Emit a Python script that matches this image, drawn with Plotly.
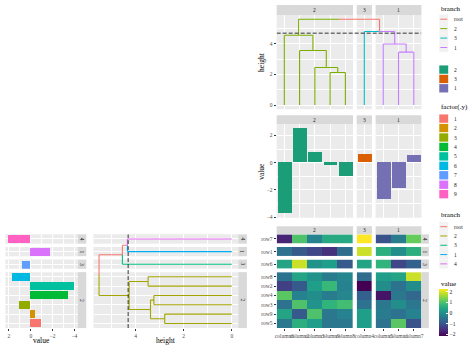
import plotly.graph_objects as go

W, H = 474, 347
FONT = "Liberation Serif"

# ---------------- data ----------------
col_panel_labels = ["2", "3", "1"]
col_panel_sizes = [5, 1, 3]
col_names = ["column6", "column2", "column3", "column9", "column8",
             "column4", "column5", "column1", "column7"]
col_values = [-3.74, 2.51, 0.73, -0.17, -1.02, 0.61, -2.70, -1.92, 0.51]
col_fill_levels = ["2", "3", "1"]
col_fill_colors = ["#1B9E77", "#D95F02", "#7570B3"]

top_merges = [(3, 4, 2.12), (2, "n0", 2.45), (1, "n1", 3.56), (0, "n2", 4.55),
              (7, 8, 3.45), (6, "n4", 3.98), (5, "n5", 4.80), ("n3", "n6", 5.60)]
top_cut = 4.69
top_branch_levels = ["root", "2", "3", "1"]
top_branch_colors = ["#F8766D", "#7CAE00", "#00BFC4", "#C77CFF"]

row_group_labels = ["4", "1", "3", "2"]
row_group_sizes = [1, 1, 1, 6]
row_names = ["row7", "row1", "row6", "row8", "row2", "row4", "row3", "row9", "row5"]
row_values = [2.03, -1.82, 0.75, 1.66, -4.03, -3.48, 1.03, -0.39, -1.00]
factor_levels = ["1", "2", "3", "4", "5", "6", "7", "8", "9"]
factor_colors = ["#F8766D", "#D39200", "#93AA00", "#00BA38", "#00C19F",
                 "#00B9E3", "#619CFF", "#DB72FB", "#FF61C3"]

left_merges = [(0, 1, 4.34), ("n0", 2, 4.55), (3, 4, 3.48), (5, 6, 3.24), (7, 8, 2.79),
               ("n3", "n4", 3.38), ("n2", "n5", 4.27), ("n1", "n6", 5.52)]
left_cut = 4.31
left_branch_levels = ["root", "2", "3", "1", "4"]
left_branch_colors = ["#F8766D", "#A3A500", "#00BF7D", "#00B0F6", "#E76BF3"]

# heatmap values: rows (top->bottom) x columns (left->right)
heat = [
    [-1.7, 1.0, -0.2, 0.5, 0.5, 2.24, -1.0, -0.3, 1.2],
    [-0.5, -0.9, -1.2, -1.5, -0.6, 1.9, 0.6, 0.0, 0.6],
    [0.4, 1.9, 0.1, 0.3, -0.9, 0.4, 0.7, -1.2, -0.8],
    [-0.5, 0.4, 0.1, -0.3, -0.1, -0.6, 0.3, 0.4, 1.9],
    [-1.3, -0.9, 0.3, 0.8, -0.2, -2.14, 0.0, -0.5, 0.0],
    [1.1, -0.2, 0.0, -0.3, -0.1, -0.8, -1.9, -0.4, -0.7],
    [-0.5, 1.0, 0.1, 0.7, 0.9, -0.5, -0.4, 0.0, -0.4],
    [0.4, -0.9, 1.0, -0.4, -0.2, 0.3, -0.3, -0.5, -0.2],
    [-0.4, 0.6, 0.3, -0.4, -0.4, 0.3, -0.5, 1.1, -1.0],
]
value_ticks = [-2, -1, 0, 1, 2]

# ---------------- layout constants (px) ----------------
COL_X0, CW, GC_PX = 277.0, 15.4, 3.7
ROW_Y1, RH, GR_PX = 330.0, 9.38, 3.3
TOPD_Y, TOPD_STRIP = (15, 110), (5, 15)
BARS_Y, BARS_STRIP = (125, 219), (116, 125)
HEAT_STRIP = (227.5, 235.7)
LBAR_X, LBAR_STRIP = (3.4, 76.6), (76.6, 85)
LDEN_X, LDEN_STRIP = (92.3, 238.3), (238.3, 247)
HEAT_RSTRIP = (423.0, 430.5)
GRID = "white"
TICKC = "#4D4D4D"
PANEL_BG = "#EBEBEB"
STRIP_BG = "#D9D9D9"

gc = GC_PX / CW
gr = GR_PX / RH

# column positions in spanning units
col_x, col_panel_of = [], []
start = 0
for k, n in enumerate(col_panel_sizes):
    for j in range(n):
        col_x.append(start + j + 1 + k * gc)
        col_panel_of.append(k)
    start += n
col_panels = []
start = 0
for k, n in enumerate(col_panel_sizes):
    idx = list(range(start, start + n))
    col_panels.append((idx, [col_x[idx[0]] - 0.5, col_x[idx[-1]] + 0.5]))
    start += n

# row positions in spanning units (bottom = 1)
nrows = len(row_names)
ngroups = len(row_group_sizes)
row_group_of = []
for g, n in enumerate(row_group_sizes):
    row_group_of += [g] * n
row_y = [(nrows - i) + (ngroups - 1 - row_group_of[i]) * gr for i in range(nrows)]
row_groups = []
start = 0
for g, n in enumerate(row_group_sizes):
    idx = list(range(start, start + n))
    ys = [row_y[i] for i in idx]
    row_groups.append((idx, [min(ys) - 0.5, max(ys) + 0.5]))
    start += n


def cpx(u):
    return COL_X0 + (u - 0.5) * CW


def rpx(u):
    return ROW_Y1 - (u - 0.5) * RH


layout_axes = {}
count = [0]
shapes = []
annotations = []


def new_axes(xpx, ypx, xopts, yopts):
    count[0] += 1
    n = count[0]
    s = "" if n == 1 else str(n)
    layout_axes["xaxis" + s] = dict(domain=[xpx[0] / W, xpx[1] / W], anchor="y" + s, **xopts)
    layout_axes["yaxis" + s] = dict(domain=[1 - ypx[1] / H, 1 - ypx[0] / H], anchor="x" + s, **yopts)
    return "x" + s, "y" + s


def axis(**kw):
    base = dict(showgrid=True, gridcolor=GRID, gridwidth=1, zeroline=False, showline=False,
                ticks="", showticklabels=False, fixedrange=True)
    base.update(kw)
    return base


TICKSTYLE = dict(showticklabels=True, ticks="outside", ticklen=2, tickwidth=0.7,
                 tickcolor="#333333", tickfont=dict(size=5.5, color=TICKC, family=FONT))
MINOR1 = dict(showgrid=True, gridcolor=GRID, gridwidth=0.5, dtick=1, tick0=0)


def panel_bg(xpx, ypx):
    shapes.append(dict(type="rect", xref="paper", yref="paper", layer="below",
                       x0=xpx[0] / W, x1=xpx[1] / W, y0=1 - ypx[1] / H, y1=1 - ypx[0] / H,
                       fillcolor=PANEL_BG, line=dict(width=0)))


def strip(xpx, ypx, text, angle=0):
    shapes.append(dict(type="rect", xref="paper", yref="paper", layer="above",
                       x0=xpx[0] / W, x1=xpx[1] / W, y0=1 - ypx[1] / H, y1=1 - ypx[0] / H,
                       fillcolor=STRIP_BG, line=dict(width=0)))
    annotations.append(dict(xref="paper", yref="paper", x=(xpx[0] + xpx[1]) / 2 / W,
                            y=1 - (ypx[0] + ypx[1]) / 2 / H, text=text, showarrow=False,
                            textangle=angle, font=dict(size=5.5, color="#1A1A1A", family=FONT),
                            xanchor="center", yanchor="middle"))


def label(xp, yp, text, size=5.5, anchor="left", angle=0, color="#1A1A1A"):
    annotations.append(dict(xref="paper", yref="paper", x=xp / W, y=1 - yp / H, text=text,
                            showarrow=False, xanchor=anchor, yanchor="middle", textangle=angle,
                            font=dict(size=size, color=color, family=FONT)))


def dendro_segments(merges, leaf_pos, leaf_branch, cut):
    pos = {i: p for i, p in enumerate(leaf_pos)}
    hgt = {i: 0.0 for i in range(len(leaf_pos))}
    br = {i: b for i, b in enumerate(leaf_branch)}
    segs = []
    for k, (l, r, h) in enumerate(merges):
        name = "n%d" % k
        pm = (pos[l] + pos[r]) / 2
        pos[name], hgt[name] = pm, h
        br[name] = "root" if h > cut else br[l]
        for c in (l, r):
            segs.append((br[c], pm, h, pos[c], h))
            segs.append((br[c], pos[c], h, pos[c], hgt[c]))
    return segs


traces = []
span_x = [col_x[0] - 0.5, col_x[-1] + 0.5]
span_y = [row_y[-1] - 0.5, row_y[0] + 0.5]
col_px_full = (cpx(span_x[0]), cpx(span_x[1]))
row_px_full = (rpx(span_y[1]), rpx(span_y[0]))

# ---------- top dendrogram panels ----------
top_range = [-0.28, 5.88]
for k, (idx, rng) in enumerate(col_panels):
    xpx = (cpx(rng[0]), cpx(rng[1]))
    panel_bg(xpx, TOPD_Y)
    strip(xpx, TOPD_STRIP, col_panel_labels[k])
    yo = axis(range=top_range, dtick=2, tick0=0, minor=MINOR1)
    if k == 0:
        yo.update(TICKSTYLE)
    xa, ya = new_axes(xpx, TOPD_Y, axis(range=rng, tickvals=[col_x[i] for i in idx]), yo)
    traces.append(go.Scatter(x=[None], y=[None], xaxis=xa, yaxis=ya, hoverinfo="skip"))

# ---------- bars panels ----------
bars_range = [-4.05, 2.82]
for k, (idx, rng) in enumerate(col_panels):
    xpx = (cpx(rng[0]), cpx(rng[1]))
    panel_bg(xpx, BARS_Y)
    strip(xpx, BARS_STRIP, col_panel_labels[k])
    yo = axis(range=bars_range, dtick=2, tick0=0, minor=MINOR1)
    if k == 0:
        yo.update(TICKSTYLE)
    xa, ya = new_axes(xpx, BARS_Y, axis(range=rng, tickvals=[col_x[i] for i in idx]), yo)
    colr = col_fill_colors[col_fill_levels.index(col_panel_labels[k])]
    traces.append(go.Bar(x=[col_x[i] for i in idx], y=[col_values[i] for i in idx], width=0.9,
                         marker=dict(color=colr, line=dict(width=0)), xaxis=xa, yaxis=ya))

# ---------- heatmap panels ----------
for k, (cidx, crng) in enumerate(col_panels):
    xpx = (cpx(crng[0]), cpx(crng[1]))
    strip(xpx, HEAT_STRIP, col_panel_labels[k])
    for g, (ridx, rrng) in enumerate(row_groups):
        ypx = (rpx(rrng[1]), rpx(rrng[0]))
        xo = axis(range=crng, showgrid=False, tickvals=[col_x[i] for i in cidx],
                  ticktext=[col_names[i] for i in cidx])
        if g == len(row_groups) - 1:
            xo.update(TICKSTYLE)
            xo["tickangle"] = 0
            xo["tickfont"] = dict(size=5.5, color=TICKC, family=FONT)
        yo = axis(range=rrng, showgrid=False, tickvals=[row_y[i] for i in ridx],
                  ticktext=[row_names[i] for i in ridx])
        if k == 0:
            yo.update(TICKSTYLE)
        xa, ya = new_axes(xpx, ypx, xo, yo)
        rr = sorted(ridx, key=lambda i: row_y[i])
        traces.append(go.Heatmap(x=[col_x[j] for j in cidx], y=[row_y[i] for i in rr],
                                 z=[[heat[i][j] for j in cidx] for i in rr],
                                 coloraxis="coloraxis", xaxis=xa, yaxis=ya, hoverinfo="skip"))
        if k == len(col_panels) - 1:
            strip(HEAT_RSTRIP, ypx, row_group_labels[g], angle=90)

# ---------- left bar panels ----------
lbar_range = [2.33, -4.33]
for g, (ridx, rrng) in enumerate(row_groups):
    ypx = (rpx(rrng[1]), rpx(rrng[0]))
    panel_bg(LBAR_X, ypx)
    strip(LBAR_STRIP, ypx, row_group_labels[g], angle=90)
    xo = axis(range=lbar_range, dtick=2, tick0=0, minor=MINOR1)
    if g == len(row_groups) - 1:
        xo.update(TICKSTYLE)
    yo = axis(range=rrng, tickvals=[row_y[i] for i in ridx])
    xa, ya = new_axes(LBAR_X, ypx, xo, yo)
    traces.append(go.Bar(y=[row_y[i] for i in ridx], x=[row_values[i] for i in ridx],
                         orientation="h", width=0.85,
                         marker=dict(color=[factor_colors[nrows - 1 - i] for i in ridx],
                                     line=dict(width=0)),
                         xaxis=xa, yaxis=ya))

# ---------- left dendrogram panels ----------
lden_range = [5.75, -0.27]
for g, (ridx, rrng) in enumerate(row_groups):
    ypx = (rpx(rrng[1]), rpx(rrng[0]))
    panel_bg(LDEN_X, ypx)
    strip(LDEN_STRIP, ypx, row_group_labels[g], angle=90)
    xo = axis(range=lden_range, dtick=2, tick0=0, minor=MINOR1)
    if g == len(row_groups) - 1:
        xo.update(TICKSTYLE)
    yo = axis(range=rrng, tickvals=[row_y[i] for i in ridx])
    xa, ya = new_axes(LDEN_X, ypx, xo, yo)
    traces.append(go.Scatter(x=[None], y=[None], xaxis=xa, yaxis=ya, hoverinfo="skip"))

# ---------- spanning dendrogram axes (drawn last, on top) ----------
hidden = dict(visible=False, fixedrange=True)
xa, ya = new_axes(col_px_full, TOPD_Y, dict(range=span_x, **hidden), dict(range=top_range, **hidden))
segs = dendro_segments(top_merges, col_x, [col_panel_labels[k] for k in col_panel_of], top_cut)
for b, c in zip(top_branch_levels, top_branch_colors):
    xs, ys = [], []
    for (bb, p0, h0, p1, h1) in segs:
        if bb == b:
            xs += [p0, p1, None]
            ys += [h0, h1, None]
    traces.append(go.Scatter(x=xs, y=ys, mode="lines", line=dict(color=c, width=1.1),
                             xaxis=xa, yaxis=ya, hoverinfo="skip"))
traces.append(go.Scatter(x=span_x, y=[top_cut, top_cut], mode="lines",
                         line=dict(color="#333333", width=1, dash="4px,2px"),
                         xaxis=xa, yaxis=ya, hoverinfo="skip"))

xa, ya = new_axes(LDEN_X, row_px_full, dict(range=lden_range, **hidden), dict(range=span_y, **hidden))
segs = dendro_segments(left_merges, row_y, [row_group_labels[g] for g in row_group_of], left_cut)
for b, c in zip(left_branch_levels, left_branch_colors):
    xs, ys = [], []
    for (bb, p0, h0, p1, h1) in segs:
        if bb == b:
            xs += [h0, h1, None]
            ys += [p0, p1, None]
    traces.append(go.Scatter(x=xs, y=ys, mode="lines", line=dict(color=c, width=1.1),
                             xaxis=xa, yaxis=ya, hoverinfo="skip"))
traces.append(go.Scatter(x=[left_cut, left_cut], y=span_y, mode="lines",
                         line=dict(color="#333333", width=1, dash="4px,2px"),
                         xaxis=xa, yaxis=ya, hoverinfo="skip"))

# ---------- axis titles ----------
label(261, (TOPD_Y[0] + TOPD_Y[1]) / 2, "height", size=7.5, anchor="center", angle=-90, color="black")
label(261, (BARS_Y[0] + BARS_Y[1]) / 2, "value", size=7.5, anchor="center", angle=-90, color="black")
label((LBAR_X[0] + LBAR_X[1]) / 2, 342, "value", size=7.5, anchor="center", color="black")
label((LDEN_X[0] + LDEN_X[1]) / 2, 342, "height", size=7.5, anchor="center", color="black")

# ---------- legends (drawn by hand) ----------
KX0, KX1, LX = 441.0, 450.0, 453.5
STEP = 9.5


def key_rect(yc, color, half=4.7, layer="above"):
    shapes.append(dict(type="rect", xref="paper", yref="paper", layer=layer,
                       x0=KX0 / W, x1=KX1 / W, y0=1 - (yc + half) / H, y1=1 - (yc - half) / H,
                       fillcolor=color, line=dict(width=0)))


def key_line(yc, color):
    key_rect(yc, "#F2F2F2")
    shapes.append(dict(type="line", xref="paper", yref="paper",
                       x0=(KX0 + 1) / W, x1=(KX1 - 1) / W, y0=1 - yc / H, y1=1 - yc / H,
                       line=dict(color=color, width=1)))


label(KX0, 9, "branch", size=7, color="black")
for i, (b, c) in enumerate(zip(top_branch_levels, top_branch_colors)):
    key_line(19.3 + STEP * i, c)
    label(LX, 19.3 + STEP * i, b)

for i, (b, c) in enumerate(zip(col_fill_levels, col_fill_colors)):
    key_rect(70 + 9.4 * i, c, half=4.2)
    label(LX, 70 + 9.4 * i, b)

label(KX0, 107.7, "factor(.y)", size=7, color="black")
for i, (f, c) in enumerate(zip(factor_levels, factor_colors)):
    key_rect(119.3 + STEP * i, c, half=4.2)
    label(LX, 119.3 + STEP * i, f)

label(KX0, 216.7, "branch", size=7, color="black")
for i, (b, c) in enumerate(zip(left_branch_levels, left_branch_colors)):
    key_line(228 + 9.35 * i, c)
    label(LX, 228 + 9.35 * i, b)

label(KX0, 286, "value", size=7, color="black")

fig = go.Figure(traces)
fig.update_layout(
    width=W, height=H, margin=dict(l=0, r=0, t=0, b=0),
    paper_bgcolor="white", plot_bgcolor="rgba(0,0,0,0)",
    showlegend=False, font=dict(family=FONT, size=6, color=TICKC),
    shapes=shapes, annotations=annotations, bargap=0,
    coloraxis=dict(colorscale="Viridis", cmin=-2.14, cmax=2.24,
                   colorbar=dict(x=KX0 / W, xanchor="left", y=1 - 290.7 / H, yanchor="top",
                                 len=47.6 / H, lenmode="fraction", thickness=9,
                                 thicknessmode="pixels", outlinewidth=0, xpad=0, ypad=0,
                                 tickvals=value_ticks, ticks="inside", tickcolor="white",
                                 ticklen=2, tickfont=dict(size=5.5, color="#1A1A1A", family=FONT),
                                 title=dict(text=""))),
    **layout_axes,
)
fig.write_html("out.html")
